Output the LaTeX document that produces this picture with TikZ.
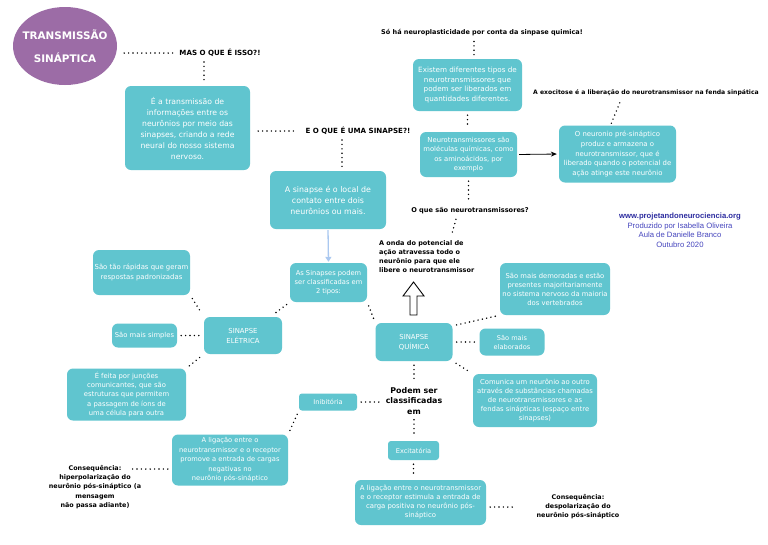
\documentclass[tikz,border=0pt]{standalone}
\usepackage{fontspec}
\setmainfont{DejaVu Sans}
\newfontfamily\footfont{Liberation Sans}
\usetikzlibrary{shapes.geometric,arrows.meta,calc}
\definecolor{teal1}{RGB}{96,197,207}
\definecolor{purp}{RGB}{156,108,166}
\definecolor{lblue}{RGB}{170,200,240}
\definecolor{navy1}{RGB}{45,45,160}
\definecolor{navy2}{RGB}{70,70,190}
\newcommand{\fs}[2]{\fontsize{#1}{#2}\selectfont}
\begin{document}
\begin{tikzpicture}[x=1pt,y=-1pt,
 box/.style={fill=teal1, rounded corners=6pt, text=white, align=center, inner sep=0pt},
 lbl/.style={align=center, inner sep=1pt},
 dots/.style={line width=1.6pt, line cap=round, dash pattern=on 0pt off 4.4pt, shorten <=4pt, shorten >=4pt},
]
\useasboundingbox[fill=white] (0,0) rectangle (768,544);

% title
\node[ellipse, fill=purp, minimum width=104pt, minimum height=78pt, inner sep=0pt] (ell) at (65,46) {};
\node[text=white, align=center, inner sep=0pt, font={\bfseries\fs{10.4}{23}}] (ellt) at (ell.center) {TRANSMISSÃO\\SINÁPTICA};
\node[lbl, font={\bfseries\fs{7.1}{8}}] (q1) at (220,53) {MAS O QUE É ISSO?!};
\node[box, minimum width=125pt, minimum height=84pt, font=\fs{7.7}{11}] (b1) at (187.5,128) {É a transmissão de\\informações entre os\\neurônios por meio das\\sinapses, criando a rede\\neural do nosso sistema\\nervoso.};
\node[lbl, font={\bfseries\fs{7.1}{8}}] (q2) at (358,131) {E O QUE É UMA SINAPSE?!};
\node[box, minimum width=116pt, minimum height=58pt, font=\fs{7.9}{11}] (b2) at (328,200) {A sinapse é o local de\\contato entre dois\\neurônios ou mais.};
\node[box, minimum width=77pt, minimum height=39pt, font=\fs{6.7}{9}] (b3) at (328.5,282.5) {As Sinapses podem\\ser classificadas em\\2 tipos:};

% top right
\node[lbl, font={\bfseries\fs{6.5}{8}}] (top) at (482,33) {Só há neuroplasticidade por conta da sinpase quimica!};
\node[box, minimum width=109pt, minimum height=52pt, font=\fs{7.2}{9.5}] (b4) at (467.5,85) {Existem diferentes tipos de\\neurotransmissores que\\podem ser liberados em\\quantidades diferentes.};
\node[box, minimum width=97pt, minimum height=45pt, font=\fs{6.8}{9.3}] (b5) at (468.5,154.5) {Neurotransmissores são\\moléculas químicas, como\\os aminoácidos, por\\exemplo};
\node[lbl, font={\bfseries\fs{6.1}{8}}] (exo) at (646,93) {A exocitose é a liberação do neurotransmissor na fenda sinpática};
\node[box, minimum width=117pt, minimum height=57pt, font=\fs{6.9}{9.7}] (b6) at (617.5,154) {O neuronio pré-sináptico\\produz e armazena o\\neurotransmissor, que é\\liberado quando o potencial de\\ação atinge este neurônio};
\node[lbl, font={\bfseries\fs{6.6}{8}}] (q3) at (470,211) {O que são neurotransmissores?};
\node[lbl, align=left, anchor=north west, font={\bfseries\fs{6.5}{9}}] (wave) at (378,239) {A onda do potencial de\\ação atravessa todo o\\neurônio para que ele\\libere o neurotransmissor};

% footer
\node[align=center, inner sep=0pt, font={\footfont\fs{7.7}{9.5}}, text=navy2] (foot) at (680,230) {\textcolor{navy1}{\bfseries www.projetandoneurociencia.org}\\Produzido por Isabella Oliveira\\Aula de Danielle Branco\\Outubro 2020};

% hollow arrow
\draw[line width=0.9pt, fill=white] (410,315) -- (417,315) -- (417,296) -- (424,296) -- (413.5,282) -- (403,296) -- (410,296) -- cycle;

% synapse types
\node[box, minimum width=77pt, minimum height=38pt, font=\fs{6.9}{10}] (chem) at (414,342) {SINAPSE\\QUÍMICA};
\node[box, minimum width=78pt, minimum height=37pt, font=\fs{6.9}{10}] (el) at (243,335.5) {SINAPSE\\ELÉTRICA};

\node[box, minimum width=97pt, minimum height=45pt, font=\fs{6.9}{10.5}] (r1) at (141.5,272.5) {São tão rápidas que geram\\respostas padronizadas};
\node[box, minimum width=65pt, minimum height=24pt, font=\fs{6.8}{9}] (r2) at (144.5,335.5) {São mais simples};
\node[box, minimum width=119pt, minimum height=52pt, font=\fs{6.8}{9.3}] (r3) at (126.5,394.5) {É feita por junções\\comunicantes, que são\\estruturas que permitem\\a passagem de íons de\\uma célula para outra};

\node[box, minimum width=110pt, minimum height=52pt, font=\fs{6.8}{9}] (c1) at (555,289) {São mais demoradas e estão\\presentes majoritariamente\\no sistema nervoso da maioria\\dos vertebrados};
\node[box, minimum width=65pt, minimum height=27pt, font=\fs{6.6}{9}] (c2) at (512,342) {São mais\\elaborados};
\node[box, minimum width=124pt, minimum height=53pt, font=\fs{6.8}{9.2}] (c3) at (535,400.5) {Comunica um neurônio ao outro\\através de substâncias chamadas\\de neurotransmissores e as\\fendas sinápticas (espaço entre\\sinapses)};

\node[lbl, font={\bfseries\fs{7.9}{10.5}}] (pc) at (414,401) {Podem ser\\classificadas\\em};
\node[box, minimum width=58pt, minimum height=17pt, rounded corners=3pt, font=\fs{6.6}{9}] (inib) at (328,402) {Inibitória};
\node[box, minimum width=116pt, minimum height=51pt, font=\fs{6.7}{9.5}] (n1) at (230,460) {A ligação entre o\\neurotransmissor e o receptor\\promove a entrada de cargas\\negativas no\\neurônio pós-sináptico};
\node[lbl, font={\bfseries\fs{6.4}{9.2}}] (cons1) at (95,487) {Consequência:\\hiperpolarização do\\neurônio pós-sináptico (a\\mensagem\\não passa adiante)};
\coordinate (ce1) at (128,469);
\node[box, minimum width=51pt, minimum height=19pt, rounded corners=3pt, font=\fs{6.6}{9}] (exc) at (413.5,450.5) {Excitatória};
\node[box, minimum width=131pt, minimum height=45pt, font=\fs{6.9}{9}] (p1) at (420.5,502.5) {A ligação entre o neurotransmissor\\e o receptor estimula a entrada de\\carga positiva no neurônio pós-\\sináptico};
\node[lbl, font={\bfseries\fs{6.4}{9}}] (cons2) at (578,507) {Consequência:\\despolarização do\\neurônio pós-sináptico};

% connectors
\draw[dots, shorten <=7pt] (q1.west -| ell.east) -- (q1.west);
\draw[dots] ([xshift=-16pt]q1.south) -- ([xshift=-16pt]q1.south |- b1.north);
\draw[dots, shorten <=8pt, shorten >=9pt] (q2.west -| b1.east) -- (q2.west);
\draw[dots] ([xshift=-16pt]q2.south) -- ([xshift=-16pt]q2.south |- b2.north);
\draw[lblue, line width=1.3pt, -{Triangle[width=6pt,length=5pt]}, shorten <=1pt, shorten >=1pt] (b2.south) -- (b3.north);
\draw[dots] ([xshift=-8pt]top.south) -- ([xshift=-8pt]top.south |- b4.north);
\draw[dots] (b4.south) -- (b4.south |- b5.north);
\draw[line width=0.8pt, -{Stealth[length=6pt,width=5pt]}, shorten <=2pt, shorten >=2pt] (b5.east) -- (b6.west);
\draw[dots, shorten <=6pt, shorten >=2pt] ([xshift=-24pt]exo.south) -- ([xshift=-7pt]b6.north);
\draw[dots] (b5.south) -- (b5.south |- q3.north);
\draw[dots] ([xshift=-13pt]q3.south) -- ([xshift=-25pt]wave.north east);

\draw[dots] (b3.south west) -- ([xshift=-12pt]el.north east);
\draw[dots] (b3.south east) -- (chem.north west);
\draw[dots] (r1.south east) -- (el.north west);
\draw[dots] (r2.east) -- (r2.east -| el.west);
\draw[dots] (r3.north east) -- (el.south west);
\draw[dots] ([yshift=-3pt]chem.north east) -- (c1.south west);
\draw[dots] (chem.east) -- (chem.east -| c2.west);
\draw[dots] (chem.south east) -- (c3.north west);
\draw[dots] (chem.south) -- (chem.south |- pc.north);
\draw[dots] (inib.east) -- (inib.east -| pc.west);
\draw[dots] (inib.south west) -- (n1.north east);
\draw[dots] ([yshift=-9pt]n1.west) -- (ce1);
\draw[dots] (pc.south) -- (pc.south |- exc.north);
\draw[dots] (exc.south) -- (exc.south |- p1.north);
\draw[dots, shorten >=22pt] (cons2.west -| p1.east) -- (cons2.west);
\end{tikzpicture}
\end{document}
